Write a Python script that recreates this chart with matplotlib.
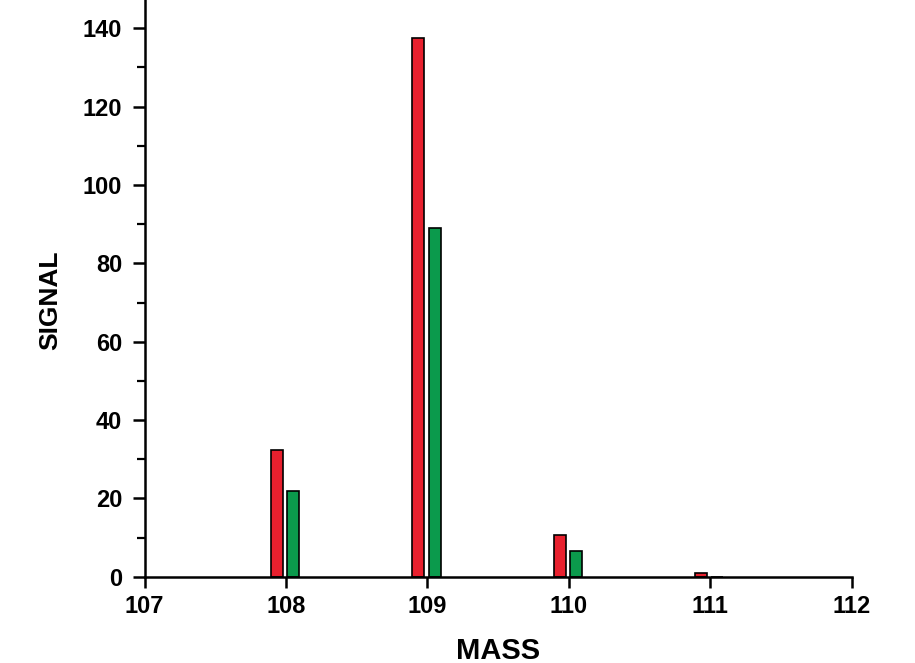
import numpy as np
import matplotlib
matplotlib.use("Agg")
import matplotlib.pyplot as plt
from matplotlib.ticker import MultipleLocator

# data
mass = [108, 109, 110, 111]
signal_red = [32.4, 137.4, 10.6, 1.0]
signal_green = [21.8, 89.0, 6.6, 0.0]

plt.rcParams['font.family'] = ['Liberation Sans', 'DejaVu Sans']
plt.rcParams['font.weight'] = 'bold'

fig = plt.figure(figsize=(9.15, 6.63), dpi=100)
ax = fig.add_axes([0.158, 0.130, 0.773, 0.870])

m = np.array(mass)
ax.bar(m - 0.065, signal_red, width=0.085, color='#e8202e', edgecolor='black', linewidth=1.2)
ax.bar(m + 0.05, signal_green, width=0.085, color='#0b9a4c', edgecolor='black', linewidth=1.2)

ax.set_xlim(107, 112)
ax.set_ylim(0, 147.2)
ax.set_xticks([107, 108, 109, 110, 111, 112])
ax.yaxis.set_major_locator(MultipleLocator(20))
ax.yaxis.set_minor_locator(MultipleLocator(10))

ax.spines['top'].set_visible(False)
ax.spines['right'].set_visible(False)
ax.spines['left'].set_linewidth(1.8)
ax.spines['bottom'].set_linewidth(1.8)
ax.tick_params(axis='x', which='major', length=8, width=1.8, labelsize=17, pad=5)
ax.tick_params(axis='y', which='major', length=9, width=1.8, labelsize=17, pad=7)
ax.tick_params(axis='y', which='minor', length=6, width=1.6)

for lbl in ax.get_xticklabels() + ax.get_yticklabels():
    lbl.set_fontweight('bold')

ax.set_xlabel('MASS', fontsize=21, fontweight='bold')
ax.set_ylabel('SIGNAL', fontsize=19, fontweight='bold')
ax.xaxis.set_label_coords(0.5, -0.104)
ax.yaxis.set_label_coords(-0.116, 0.48)

fig.savefig('out.png', dpi=100)
